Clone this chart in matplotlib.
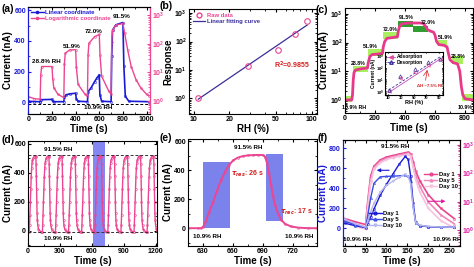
import matplotlib.pyplot as plt
import numpy as np
from matplotlib.lines import Line2D
from matplotlib.ticker import AutoMinorLocator, NullFormatter, LogLocator

plt.rcParams['font.family'] = ['Liberation Sans', 'DejaVu Sans']
plt.rcParams['font.weight'] = 'bold'
plt.rcParams['axes.labelweight'] = 'bold'
plt.rcParams['axes.linewidth'] = 0.8
plt.rcParams['xtick.direction'] = 'in'
plt.rcParams['ytick.direction'] = 'in'
plt.rcParams['xtick.major.size'] = 2.2
plt.rcParams['ytick.major.size'] = 2.2
plt.rcParams['xtick.minor.size'] = 1.2
plt.rcParams['ytick.minor.size'] = 1.2
plt.rcParams['xtick.labelsize'] = 5
plt.rcParams['ytick.labelsize'] = 5
plt.rcParams['axes.labelsize'] = 7
plt.rcParams['xtick.major.pad'] = 1.5
plt.rcParams['ytick.major.pad'] = 1.5
plt.rcParams['axes.labelpad'] = 1

BLUE = '#1a1ad6'
PINK = '#ec4592'
NAVY = '#3b2f99'
RED = '#d42020'
LGREEN = '#a8f060'
DGREEN = '#2f9e2f'

# ---- (a) current vs time, linear and log
a_time_lin = [0, 50, 95, 100, 105, 200, 205, 215, 300, 305, 320, 350, 400, 405, 420, 500, 505,
              530, 560, 580, 600, 605, 620, 700, 705, 712, 740, 800, 808, 820, 850, 1020]
a_cur_lin = [8, 6, 5, 5, 18, 20, 8, 5, 5, 35, 50, 56, 60, 25, 8, 5, 70,
             95, 135, 160, 180, 50, 8, 5, 300, 470, 505, 520, 235, 40, 8, 5]
a_time_log = [0, 50, 100, 105, 112, 200, 206, 215, 250, 300, 305, 312, 350, 400, 406, 420, 480,
              500, 505, 512, 560, 600, 606, 620, 680, 700, 705, 712, 740, 800, 815, 840, 870,
              910, 950, 1000, 1020]
a_cur_log = [1.4, 1.2, 1.14, 8, 16, 16, 6, 2.9, 1.7, 1.3, 20, 47, 61, 62, 15, 3.8, 1.7,
             1.5, 40, 104, 178, 212, 40, 7.3, 2.2, 1.7, 120, 300, 450, 515, 230, 61, 16,
             5.6, 2.9, 1.7, 1.5]

# ---- (b) response vs RH
b_rh = [10.9, 28.8, 51.9, 72.0, 91.5]
b_resp = [1.0, 14, 52, 180, 520]
b_fit_rh = [10.9, 91.5]
b_fit_resp = [0.93, 380]

# ---- (c) staircase
c_time = [0, 45, 50, 55, 60, 70, 100, 150, 155, 165, 180, 220, 250, 255, 265, 280, 320, 350, 355, 365,
          380, 420, 500, 520, 535, 550, 570, 590, 600, 610, 625, 660, 680, 690, 700, 720, 750, 765,
          775, 785, 800, 853]
c_cur = [1.0, 1.0, 1.5, 5, 9, 11, 12, 13, 20, 32, 38, 40, 42, 70, 110, 140, 150, 160, 250, 380,
         450, 480, 480, 470, 380, 280, 250, 230, 180, 110, 85, 80, 70, 40, 25, 20, 18, 10,
         3, 1.5, 1.1, 1.0]
c_blk_t0 = [0, 50, 156, 256, 356, 456, 622, 711, 778]
c_blk_t1 = [44, 150, 256, 356, 456, 556, 678, 789, 853]
c_blk_lo = [0.83, 9.2, 35, 134, 340, 230, 78, 18, 0.95]
c_blk_hi = [1.4, 15.7, 60, 230, 585, 390, 124, 35, 1.6]
c_blk_col = [LGREEN, LGREEN, LGREEN, LGREEN, DGREEN, DGREEN, LGREEN, LGREEN, LGREEN]
c_lab = ['10.9% RH', '28.8%', '51.9%', '72.0%', '91.5%', '72.0%', '51.9%', '28.8%', '10.9%']
c_lab_t = [60, 89, 167, 300, 411, 556, 667, 756, 800]
c_lab_v = [0.53, 19, 72, 275, 760, 510, 153, 32, 0.56]
ci_rh = [10.9, 28.8, 51.9, 72.0, 91.5]
ci_ads = [1.0, 13, 40, 150, 480]
ci_des = [1.2, 20, 78, 300, 480]
ci_ads_fit = [0.8, 520]
ci_des_fit = [1.3, 800]

# ---- (d) cycling
d_cycle_start = [12, 135, 258, 381, 504, 627, 750, 873, 996, 1119]
d_prof_t = [0, 3, 6, 10, 14, 18, 22, 26, 30, 36, 44, 52, 60, 62, 64, 66, 68, 70, 73, 76, 80, 86, 95, 108, 120]
d_prof_i = [-10, 40, 110, 200, 290, 370, 430, 465, 485, 500, 510, 515, 518, 505, 460, 380, 290, 200, 120, 70, 35, 12, 0, -8, -10]

# ---- (e) single cycle
e_time = [615, 625, 628, 630, 633, 636, 640, 644, 648, 652, 656, 660, 665, 670, 675, 680, 685, 690, 692,
          694, 696, 698, 700, 702, 705, 708, 712, 718, 725, 735, 744]
e_cur = [0, 0, 0, 8, 50, 110, 180, 260, 330, 390, 435, 468, 488, 498, 503, 505, 506, 505, 495,
         450, 380, 300, 220, 160, 100, 60, 30, 12, 4, 0, 0]

# ---- (f) stability
f_time = [0, 25, 50, 55, 62, 70, 85, 100, 115, 130, 145, 152, 158, 164, 170, 180, 200, 230, 262]
f_lin_d1 = [50, 25, 5, 40, 110, 190, 330, 440, 540, 640, 720, 690, 520, 250, 60, 25, 15, 10, 8]
f_lin_d5 = [70, 35, 8, 120, 300, 450, 515, 520, 522, 525, 530, 525, 470, 220, 50, 25, 15, 10, 8]
f_lin_d10 = [90, 45, 10, 70, 160, 250, 360, 430, 470, 510, 540, 520, 440, 200, 55, 30, 18, 12, 10]
f_log_d1 = [2.6, 2.0, 1.6, 10, 80, 180, 300, 380, 430, 480, 540, 560, 500, 260, 120, 55, 18, 6, 2.6]
f_log_d5 = [2.2, 1.7, 1.3, 8, 60, 160, 270, 340, 390, 440, 500, 520, 450, 200, 85, 35, 10, 3.5, 1.7]
f_log_d10 = [1.9, 1.4, 1.1, 6, 45, 140, 240, 310, 360, 400, 450, 470, 400, 160, 60, 22, 6, 2.2, 1.2]


W, H = 474, 267


def rect(l, r, t, b):
    return [l / W, 1 - b / H, (r - l) / W, (b - t) / H]


def minor(ax, x=True, y=True):
    if x:
        ax.xaxis.set_minor_locator(AutoMinorLocator(2))
    if y:
        ax.yaxis.set_minor_locator(AutoMinorLocator(2))
    ax.tick_params(which='both', top=True)


fig = plt.figure(figsize=(4.74, 2.67), dpi=100)

# ===================== (a)
axa = fig.add_axes(rect(28, 150, 7, 114))
axa.plot(a_time_lin, a_cur_lin, '-o', color=BLUE, lw=1.2, ms=1.6, mfc='none', mew=0.4, zorder=3)
axa.axhline(-10, ls='--', color='k', lw=0.7, dashes=(3, 2))
axa.set_xlim(-3, 1029)
axa.set_ylim(-75, 621)
axa.set_xticks([0, 200, 400, 600, 800, 1000])
axa.set_yticks([0, 200, 400, 600])
minor(axa)
axa.tick_params(axis='y', colors=BLUE, which='both')
axa.spines['left'].set_color(BLUE)
axa.set_xlabel('Time (s)')
axa.set_ylabel('Current (nA)')
axar = axa.twinx()
axar.set_yscale('log')
axar.plot(a_time_log, a_cur_log, '-o', color=PINK, lw=1.0, ms=1.4, mfc='none', mew=0.4)
axar.set_ylim(10 ** -0.46, 10 ** 3.29)
axar.tick_params(axis='y', colors=PINK, which='both', direction='in', labelsize=5)
axar.yaxis.set_major_locator(LogLocator(base=10, numticks=6))
axar.spines['right'].set_color(PINK)
axar.spines['left'].set_color(BLUE)
for t, v, s in [(155, 268, '28.8% RH'), (367, 364, '51.9%'), (550, 461, '72.0%'), (789, 557, '91.5%')]:
    axa.text(t, v, s, fontsize=4.5, ha='center', va='center')
axa.text(592, -32, '10.9% RH', fontsize=4.5, ha='center', va='center')
ha = [Line2D([], [], color=BLUE, lw=1, marker='o', ms=1.6, mfc='none'),
      Line2D([], [], color=PINK, lw=1, marker='o', ms=1.6, mfc='none')]
axar.legend(ha, ['Linear coordinate', 'Logarithmic coordinate'], loc='upper left', frameon=False,
            fontsize=4.2, labelcolor=[BLUE, PINK], handlelength=2.2, borderaxespad=0.1,
            labelspacing=0.2, handletextpad=0.3)

# ===================== (b)
axb = fig.add_axes(rect(189, 317, 9, 114))
axb.set_xscale('log')
axb.set_yscale('log')
axb.plot(b_fit_rh, b_fit_resp, color=NAVY, lw=0.9)
axb.plot(b_rh, b_resp, 'o', mfc='none', mec=PINK, ms=4, mew=0.8)
axb.set_xlim(9.1, 111)
axb.set_ylim(0.28, 1400)
axb.set_xticks([10, 20, 50, 100])
axb.set_xticklabels(['10', '20', '50', '100'])
axb.xaxis.set_minor_formatter(NullFormatter())
axb.tick_params(which='both', top=True, right=True)
axb.set_xlabel('RH (%)')
axb.set_ylabel('Response')
axb.text(48, 11, 'R$^2$=0.9855', color=RED, fontsize=5)
hb = [Line2D([], [], ls='none', marker='o', mfc='none', mec=PINK, ms=3.5),
      Line2D([], [], color=NAVY, lw=0.9)]
axb.legend(hb, ['Raw data', 'Linear fitting curve'], loc='upper left', frameon=False, fontsize=4.2,
           labelcolor=[PINK, NAVY], handlelength=2.2, borderaxespad=0.2, labelspacing=0.2,
           handletextpad=0.3)

# ===================== (c)
axc = fig.add_axes(rect(345, 473, 8, 113))
axc.set_yscale('log')
for t0, t1, lo, hi, col in zip(c_blk_t0, c_blk_t1, c_blk_lo, c_blk_hi, c_blk_col):
    axc.fill_between([t0, t1], lo, hi, color=col, lw=0, zorder=1)
axc.plot(c_time, c_cur, color='#e8388a', lw=2.0, zorder=2)
for t, v, s in zip(c_lab_t, c_lab_v, c_lab):
    axc.text(t, v, s, fontsize=3.8, ha='center', va='center', zorder=3)
axc.set_xlim(0, 853)
axc.set_ylim(0.35, 1600)
axc.set_xticks([0, 200, 400, 600, 800])
axc.xaxis.set_minor_locator(AutoMinorLocator(2))
axc.tick_params(which='both', top=True, right=True)
axc.set_xlabel('Time (s)')
axc.set_ylabel('Current (nA)')

axi = fig.add_axes(rect(385, 443, 52, 95))
axi.set_yscale('log')
axi.plot(ci_rh[::4], ci_ads_fit, color='#c050c0', lw=0.6)
axi.plot(ci_rh[::4], ci_des_fit, color=NAVY, lw=0.6, ls='--', dashes=(3, 2))
axi.plot(ci_rh, ci_ads, '<', mfc='none', mec=PINK, ms=2.5, mew=0.5, ls='none')
axi.plot(ci_rh, ci_des, '^', mfc='none', mec=NAVY, ms=2.5, mew=0.5, ls='none')
axi.set_xlim(5, 96)
axi.set_ylim(0.5, 2000)
axi.set_xticks([10, 30, 50, 70, 90])
axi.tick_params(which='both', labelsize=3, length=1, pad=0.8, top=True, right=True)
axi.set_xlabel('RH (%)', fontsize=4, labelpad=0)
axi.set_ylabel('Current (nA)', fontsize=3.5, labelpad=0)
axi.text(77, 3.0, 'ΔH ~7.5% RH', color=RED, fontsize=3.2, ha='center', va='center')
axi.annotate('', xy=(72, 110), xytext=(68, 5), arrowprops=dict(arrowstyle='->', color=RED, lw=0.5))
hi = [Line2D([], [], color='#c050c0', lw=0.6, marker='<', mfc='none', mec=PINK, ms=2.5),
      Line2D([], [], color=NAVY, lw=0.6, ls='--', marker='^', mfc='none', ms=2.5)]
axi.legend(hi, ['Adsorption', 'Desorption'], loc='upper left', frameon=False, fontsize=3.5,
           handlelength=1.6, borderaxespad=0.1, labelspacing=0.1, handletextpad=0.3)

# ===================== (d)
axd = fig.add_axes(rect(28, 157, 141, 246))
d_t = np.concatenate([[s + p for p in d_prof_t] for s in d_cycle_start])
d_i = np.concatenate([d_prof_i for s in d_cycle_start])
axd.axvspan(610, 727, color='#6f72f0', alpha=0.85, lw=0, zorder=0)
axd.plot(d_t, d_i, '-o', color=PINK, lw=1.0, ms=1.4, mfc='none', mew=0.4, zorder=2)
axd.axhline(524, ls='--', color='#333333', lw=0.7, dashes=(3, 2))
axd.axhline(-12, ls='--', color='#333333', lw=0.7, dashes=(3, 2))
axd.text(284, 560, '91.5% RH', fontsize=4.5, ha='center', va='center')
axd.text(284, -55, '10.9% RH', fontsize=4.5, ha='center', va='center')
axd.set_xlim(0, 1212)
axd.set_ylim(-107, 619)
axd.set_xticks([0, 300, 600, 900, 1200])
axd.set_yticks([0, 200, 400, 600])
minor(axd)
axd.tick_params(which='both', right=True)
axd.set_xlabel('Time (s)')
axd.set_ylabel('Current (nA)')

# ===================== (e)
axe = fig.add_axes(rect(188, 317, 139, 246))
axe.fill_between([630, 657], 0, 458, color='#7b82ec', lw=0, zorder=0)
axe.fill_between([693, 710], 47, 512, color='#7b82ec', lw=0, zorder=0)
axe.plot(e_time, e_cur, '-o', color=PINK, lw=1.4, ms=1.4, mfc='none', mew=0.4, zorder=2)
axe.text(675, 555, '91.5% RH', fontsize=4.5, ha='center', va='center')
axe.text(658, 375, r'$\tau_{res}$: 26 s', fontsize=5, color=RED, ha='left', va='center')
axe.text(707, 114, r'$\tau_{rec}$: 17 s', fontsize=5, color=RED, ha='left', va='center')
axe.text(634, -55, '10.9% RH', fontsize=4.5, ha='center', va='center')
axe.text(726, -55, '10.9% RH', fontsize=4.5, ha='center', va='center')
axe.set_xlim(615, 744)
axe.set_ylim(-123, 616)
axe.set_xticks([630, 660, 690, 720])
axe.set_yticks([0, 200, 400, 600])
minor(axe)
axe.tick_params(which='both', right=True)
axe.set_xlabel('Time (s)')
axe.set_ylabel('Current (nA)')

# ===================== (f)
axf = fig.add_axes(rect(343, 460, 140, 246))
blues = [BLUE, '#3a4ee0', '#b8b8ee']
pinks = ['#e8458f', '#f086bc', '#f6c2de']
marks = ['o', '^', 'v']
axfr = axf.twinx()
axfr.set_yscale('log')
for ys, c, m in zip([f_log_d1, f_log_d5, f_log_d10], pinks, marks):
    axfr.plot(f_time, ys, '-' + m, color=c, lw=1.2, ms=1.6, mfc='none', mew=0.4)
for ys, c, m in zip([f_lin_d1, f_lin_d5, f_lin_d10], blues, marks):
    axf.plot(f_time, ys, '-' + m, color=c, lw=1.0, ms=1.6, mfc='none', mew=0.4, zorder=3)
axf.set_zorder(axfr.get_zorder() + 1)
axf.patch.set_visible(False)
axf.set_xlim(-4, 276)
axf.set_ylim(-179, 885)
axf.set_xticks([0, 50, 100, 150, 200, 250])
axf.set_yticks([0, 200, 400, 600, 800])
minor(axf)
axf.tick_params(axis='y', colors=BLUE, which='both')
axf.set_xlabel('Time (s)')
axf.set_ylabel('Current (nA)', color=BLUE)
axfr.set_ylim(0.28, 10 ** 3.18)
axfr.tick_params(axis='y', colors='#e020a0', which='both', direction='in', labelsize=5)
axfr.spines['right'].set_color('#e020a0')
axfr.spines['left'].set_color(BLUE)
axf.spines['left'].set_color(BLUE)
axf.text(120, 824, '91.5% RH', fontsize=4.5, ha='center', va='center')
axf.text(30, -111, '10.9% RH', fontsize=4.5, ha='center', va='center')
axf.text(245, -111, '10.9% RH', fontsize=4.5, ha='center', va='center')
axf.annotate('', xy=(70, 581), xytext=(113, 581),
             arrowprops=dict(arrowstyle='-|>', color=BLUE, lw=0.8, mutation_scale=5))
axf.annotate('', xy=(248, 270), xytext=(192, 270),
             arrowprops=dict(arrowstyle='-|>', color='#e020a0', lw=0.8, mutation_scale=5))
hfb = [Line2D([], [], color=c, lw=1, marker=m, ms=2, mfc='none') for c, m in zip(blues, marks)]
hfp = [Line2D([], [], color=c, lw=1, marker=m, ms=2, mfc='none') for c, m in zip(pinks, marks)]
leg1 = axf.legend(hfb, ['Day 1', 'Day 5', 'Day 10'], loc='lower left', bbox_to_anchor=(0.2, 0.15),
                  frameon=False, fontsize=4.2, handlelength=2.2, labelspacing=0.15, handletextpad=0.3,
                  borderaxespad=0)
leg2 = axf.legend(hfp, ['Day 1', 'Day 5', 'Day 10'], loc='upper right', bbox_to_anchor=(1.0, 0.72),
                  frameon=False, fontsize=4.2, handlelength=2.2, labelspacing=0.15, handletextpad=0.3,
                  borderaxespad=0)
axf.add_artist(leg1)

for x, y, s in [(2, 4, '(a)'), (160, 1, '(b)'), (316, 5, '(c)'), (2, 135, '(d)'), (160, 133, '(e)'), (318, 133, '(f)')]:
    fig.text(x / W, 1 - y / H, s, fontsize=7.5, fontweight='bold', va='top', ha='left')

fig.savefig('out.png', dpi=100)
